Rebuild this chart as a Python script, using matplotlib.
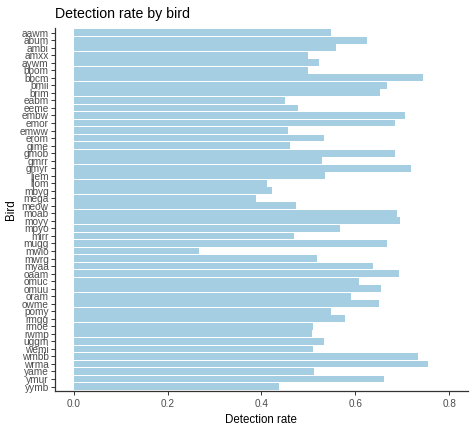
import numpy as np
import matplotlib.pyplot as plt

plt.rcParams["font.family"] = ["Liberation Sans", "DejaVu Sans"]

# ---- DATA ---- #
birds = ["aawm", "abum", "ambi", "amxx", "aywm", "bbom", "bbcm", "bmii", "brim",
         "eabm", "eeme", "embw", "emor", "emww", "erom", "gime", "gmob", "gmrr",
         "gmyr", "ljem", "llom", "mbyg", "mega", "meow", "moab", "moyy", "mpyo",
         "mirr", "mugg", "mwio", "mwrg", "myaa", "oaam", "omuc", "omuu", "oram",
         "owme", "pomy", "rmgg", "rmoe", "rwmp", "uggm", "wemi", "wmbb", "wrma",
         "yame", "ymur", "yymb"]
detection_rate = [0.548, 0.625, 0.560, 0.499, 0.523, 0.499, 0.745, 0.667, 0.652,
                  0.450, 0.479, 0.706, 0.684, 0.457, 0.533, 0.460, 0.685, 0.530,
                  0.718, 0.535, 0.411, 0.423, 0.389, 0.474, 0.689, 0.696, 0.568,
                  0.469, 0.667, 0.266, 0.519, 0.637, 0.694, 0.607, 0.654, 0.592,
                  0.650, 0.548, 0.579, 0.511, 0.507, 0.533, 0.509, 0.733, 0.756,
                  0.513, 0.662, 0.438]
x_ticks = [0.0, 0.2, 0.4, 0.6, 0.8]

# ---- PLOT ---- #
fig = plt.figure(figsize=(4.74, 4.26), dpi=100)
ax = fig.add_axes([0.116, 0.082, 0.871, 0.852])

pos = np.arange(len(birds))[::-1] + 1
ax.barh(pos, detection_rate, height=0.9, color="#a6cee3")

ax.set_ylim(0.4, len(birds) + 0.6)
ax.set_xlim(-0.04, 0.84)
ax.set_yticks(pos)
ax.set_yticklabels(birds)
ax.set_xticks(x_ticks)
ax.set_xticklabels([f"{t:.1f}" for t in x_ticks])

for side in ["top", "right"]:
    ax.spines[side].set_visible(False)
for side in ["left", "bottom"]:
    ax.spines[side].set_color("#333333")
    ax.spines[side].set_linewidth(0.9)

ax.tick_params(axis="y", labelsize=7.3, length=3, width=0.7, colors="#333333",
               labelcolor="#4d4d4d", pad=1.5)
ax.tick_params(axis="x", labelsize=7.2, length=3, width=0.7, colors="#333333",
               labelcolor="#4d4d4d", pad=3)

ax.set_xlabel("Detection rate", fontsize=8.3, labelpad=3)
ax.set_ylabel("Bird", fontsize=8.3, labelpad=2)
ax.set_title("Detection rate by bird", fontsize=10.2, loc="left", pad=7)

plt.savefig("out.png", dpi=100)
